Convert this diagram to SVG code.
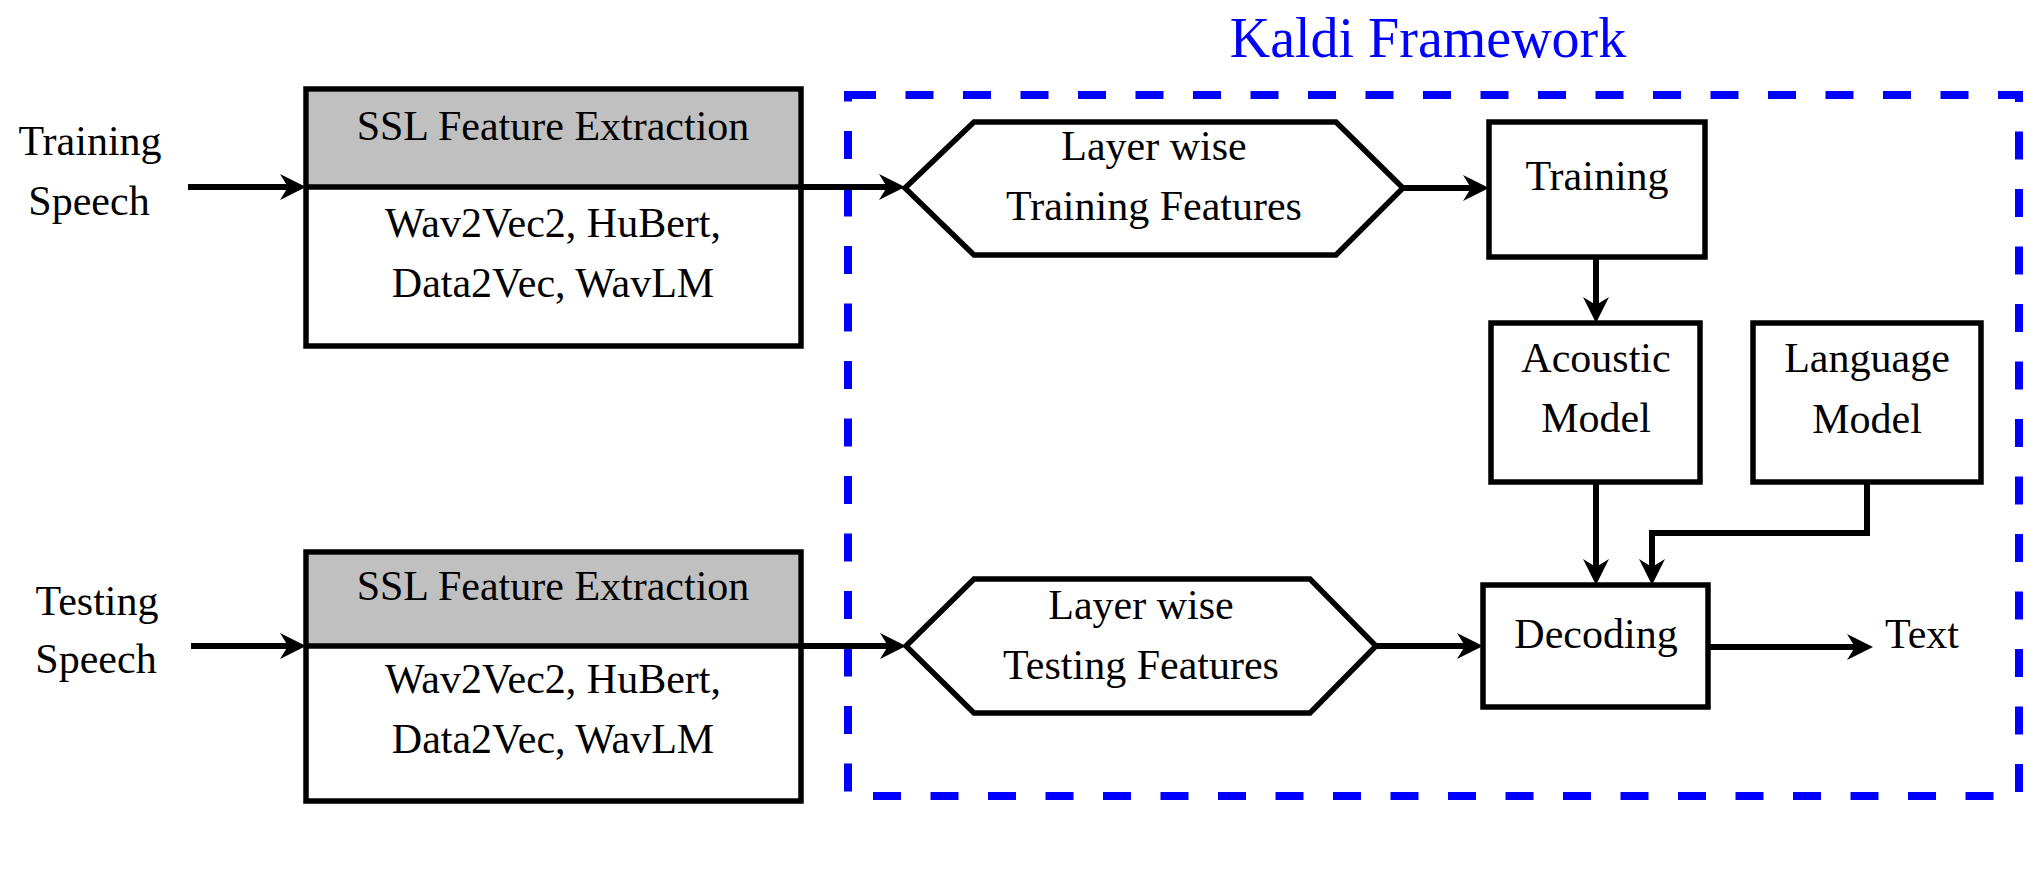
<svg xmlns="http://www.w3.org/2000/svg" width="2036" height="888" viewBox="0 0 2036 888">
<style>
.box{fill:#fff;stroke:#000;stroke-width:5.5}
.hdr{fill:#c0c0c0;stroke:none}
.t{font-family:"Liberation Serif","Times New Roman",serif;font-size:42px;fill:#000;text-anchor:middle}
.ts{font-family:"Liberation Serif","Times New Roman",serif;font-size:42px;fill:#000}
.title{font-family:"Liberation Serif","Times New Roman",serif;font-size:56px;fill:#0000ff;text-anchor:middle}
.conn{fill:none;stroke:#000;stroke-width:6}
.frame{fill:none;stroke:#0000ff;stroke-width:8;stroke-dasharray:28 29.5}
</style>
<defs>
<marker id="arr" markerUnits="userSpaceOnUse" viewBox="-15 -15 30 30" markerWidth="30" markerHeight="30" refX="0" refY="0" orient="auto">
<path d="M12,0 L-14,-13 L-6,0 L-14,13 Z" fill="#000"/>
</marker>
</defs>
<rect width="2036" height="888" fill="#fff"/>

<g id="kaldi-frame">
<rect class="frame" x="848" y="95" width="1171" height="701"/>
<text class="title" x="1428" y="57">Kaldi Framework</text>
</g>

<g id="training-speech">
<text class="t" x="90" y="155">Training</text>
<text class="t" x="89" y="215">Speech</text>
</g>

<g id="ssl-train">
<rect class="box" x="306" y="89" width="495" height="257"/>
<rect class="hdr" x="309" y="92" width="489" height="95"/>
<line x1="306" y1="187" x2="801" y2="187" stroke="#000" stroke-width="5.5"/>
<text class="t" x="553" y="140">SSL Feature Extraction</text>
<text class="t" x="553" y="237">Wav2Vec2, HuBert,</text>
<text class="t" x="553" y="297">Data2Vec, WavLM</text>
</g>

<g id="testing-speech">
<text class="t" x="97" y="615">Testing</text>
<text class="t" x="96" y="673">Speech</text>
</g>

<g id="ssl-test">
<rect class="box" x="306" y="552" width="495" height="249"/>
<rect class="hdr" x="309" y="555" width="489" height="91"/>
<line x1="306" y1="646" x2="801" y2="646" stroke="#000" stroke-width="5.5"/>
<text class="t" x="553" y="600">SSL Feature Extraction</text>
<text class="t" x="553" y="693">Wav2Vec2, HuBert,</text>
<text class="t" x="553" y="753">Data2Vec, WavLM</text>
</g>

<g id="train-features">
<polygon class="box" points="905,188 974,122 1336,122 1403,188 1336,255 974,255"/>
<text class="t" x="1154" y="160">Layer wise</text>
<text class="t" x="1154" y="220">Training Features</text>
</g>

<g id="test-features">
<polygon class="box" points="906,646 974,579 1310,579 1376,646 1310,713 974,713"/>
<text class="t" x="1141" y="619">Layer wise</text>
<text class="t" x="1141" y="679">Testing Features</text>
</g>

<g id="training">
<rect class="box" x="1489" y="122" width="216" height="135"/>
<text class="t" x="1597" y="190">Training</text>
</g>

<g id="acoustic-model">
<rect class="box" x="1491" y="323" width="209" height="159"/>
<text class="t" x="1596" y="372">Acoustic</text>
<text class="t" x="1596" y="432">Model</text>
</g>

<g id="language-model">
<rect class="box" x="1753" y="323" width="228" height="159"/>
<text class="t" x="1867" y="372">Language</text>
<text class="t" x="1867" y="433">Model</text>
</g>

<g id="decoding">
<rect class="box" x="1483" y="585" width="225" height="122"/>
<text class="t" x="1596" y="648">Decoding</text>
</g>

<g id="text-out">
<text class="ts" x="1885" y="648">Text</text>
</g>

<g id="connectors">
<line class="conn" x1="188" y1="187" x2="294" y2="187" marker-end="url(#arr)"/>
<line class="conn" x1="801" y1="187" x2="893" y2="187" marker-end="url(#arr)"/>
<line class="conn" x1="1403" y1="188" x2="1477" y2="188" marker-end="url(#arr)"/>
<line class="conn" x1="1596" y1="257" x2="1596" y2="311" marker-end="url(#arr)"/>
<line class="conn" x1="1596" y1="482" x2="1596" y2="573" marker-end="url(#arr)"/>
<path class="conn" d="M1867,482 V533 H1652 V573" marker-end="url(#arr)"/>
<line class="conn" x1="1708" y1="647" x2="1861" y2="647" marker-end="url(#arr)"/>
<line class="conn" x1="191" y1="646" x2="294" y2="646" marker-end="url(#arr)"/>
<line class="conn" x1="801" y1="646" x2="894" y2="646" marker-end="url(#arr)"/>
<line class="conn" x1="1376" y1="646" x2="1471" y2="646" marker-end="url(#arr)"/>
</g>
</svg>
